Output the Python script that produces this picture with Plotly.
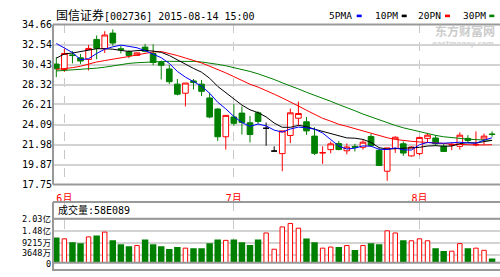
import plotly.graph_objects as go

# ---------------- data ----------------
dates = ["2015-05-29",
         "2015-06-01", "2015-06-02", "2015-06-03", "2015-06-04", "2015-06-05", "2015-06-08", "2015-06-09",
         "2015-06-10", "2015-06-11", "2015-06-12", "2015-06-15", "2015-06-16", "2015-06-17", "2015-06-18",
         "2015-06-19", "2015-06-23", "2015-06-24", "2015-06-25", "2015-06-26", "2015-06-29", "2015-06-30",
         "2015-07-01", "2015-07-02", "2015-07-03", "2015-07-06", "2015-07-07", "2015-07-08", "2015-07-09",
         "2015-07-10", "2015-07-13", "2015-07-14", "2015-07-15", "2015-07-16", "2015-07-17", "2015-07-20",
         "2015-07-21", "2015-07-22", "2015-07-23", "2015-07-24", "2015-07-27", "2015-07-28", "2015-07-29",
         "2015-07-30", "2015-07-31",
         "2015-08-03", "2015-08-04", "2015-08-05", "2015-08-06", "2015-08-07", "2015-08-10", "2015-08-11",
         "2015-08-12", "2015-08-13", "2015-08-14"]

open_ = [30.48, 29.90, 31.45, 31.14, 30.97, 33.08, 32.10, 33.75, 32.10, 31.78,
         31.40, 32.27, 31.60, 30.64, 29.96, 28.36, 27.40, 28.70, 28.36, 26.90,
         25.73, 22.80, 24.89, 25.30, 24.28, 25.33, 23.70, 21.29, 21.02, 22.94,
         24.76, 24.38, 22.87, 21.08, 21.44, 22.08, 21.32, 21.78, 21.69, 22.82,
         21.37, 19.16, 21.55, 22.06, 20.78, 21.02, 22.63, 22.67, 21.79, 21.93,
         21.79, 22.63, 21.95, 22.56, 23.09]
high = [31.20, 32.07, 31.85, 31.55, 32.50, 33.50, 33.95, 34.14, 32.40, 31.95,
        31.70, 32.62, 32.57, 30.85, 30.40, 28.90, 28.50, 28.90, 28.80, 27.45,
        25.83, 25.10, 26.24, 26.00, 25.00, 25.50, 24.30, 21.79, 23.42, 25.77,
        26.51, 24.89, 23.81, 21.80, 22.30, 22.35, 22.10, 22.06, 22.47, 23.10,
        21.60, 21.65, 22.85, 22.30, 21.78, 22.80, 23.21, 22.97, 22.03, 22.19,
        23.27, 22.97, 23.37, 23.14, 23.37]
low = [29.10, 29.65, 30.55, 30.50, 29.80, 30.99, 31.65, 32.43, 31.60, 31.10,
       31.35, 31.73, 30.35, 28.85, 28.38, 27.17, 26.00, 27.80, 27.10, 24.76,
       22.36, 21.45, 23.98, 23.04, 22.20, 24.15, 21.86, 21.29, 19.16, 22.13,
       23.98, 23.00, 20.88, 19.94, 21.05, 21.37, 20.95, 21.25, 21.45, 21.79,
       19.72, 18.15, 21.10, 20.78, 20.70, 20.85, 22.20, 21.86, 21.22, 21.39,
       21.45, 22.20, 21.79, 21.96, 22.80]
close = [29.98, 31.60, 31.38, 30.80, 32.13, 32.15, 33.55, 32.70, 32.00, 31.38,
         31.66, 31.83, 30.65, 30.35, 28.62, 27.30, 28.47, 28.54, 27.60, 24.89,
         22.80, 25.06, 24.22, 24.32, 23.04, 24.42, 23.70, 21.29, 23.42, 25.33,
         25.26, 23.42, 21.05, 21.13, 22.05, 21.45, 21.72, 21.70, 22.23, 21.87,
         19.77, 21.62, 22.75, 21.08, 21.72, 22.73, 22.97, 22.06, 21.25, 21.97,
         22.97, 22.40, 22.00, 22.87, 23.05]

# volume in 亿 (1e8 shares)
volume_yi = [1.16, 1.10, 0.94, 0.90, 1.19, 1.25, 1.41, 1.03, 0.85, 0.76,
             0.79, 1.07, 0.85, 0.76, 0.63, 0.72, 0.67, 0.67, 0.67, 0.90,
             1.07, 1.03, 1.07, 0.94, 0.81, 1.07, 1.37, 0.62, 1.65, 1.81,
             1.59, 1.12, 0.94, 0.67, 0.72, 0.72, 0.79, 0.59, 0.79, 0.90,
             0.85, 1.47, 1.37, 1.03, 1.01, 1.10, 1.01, 0.67, 0.54, 0.53,
             0.88, 0.67, 0.67, 0.57, 0.19]

ma5 = [32.65, 32.20, 31.70, 30.95, 31.05, 31.60, 32.05, 32.30, 32.48, 32.35,
       32.20, 31.90, 31.50, 31.15, 30.55, 29.70, 29.10, 28.65, 28.15, 27.40,
       26.45, 25.75, 24.95, 24.30, 23.90, 24.15, 23.95, 23.50, 23.30, 23.62,
       23.82, 23.75, 23.60, 23.20, 22.55, 21.82, 21.50, 21.60, 21.84, 21.80,
       21.48, 21.45, 21.63, 21.42, 21.40, 21.96, 22.20, 22.12, 22.12, 22.18,
       22.22, 22.15, 22.12, 22.44, 22.70]
ma10 = [31.10, 31.55, 31.65, 31.80, 32.00, 32.10, 32.10, 32.05, 31.92, 31.82,
        31.90, 31.92, 31.85, 31.72, 31.38, 30.92, 30.42, 30.02, 29.62, 28.98,
        28.12, 27.45, 26.80, 26.15, 25.65, 25.35, 24.90, 24.25, 23.80, 23.80,
        24.00, 23.88, 23.60, 23.35, 23.15, 22.90, 22.68, 22.65, 22.52, 22.20,
        21.65, 21.50, 21.55, 21.58, 21.57, 21.68, 21.82, 21.86, 21.80, 21.82,
        22.08, 22.18, 22.15, 22.30, 22.42]
ma20 = [29.92, 29.98, 30.10, 30.25, 30.50, 30.70, 30.85, 30.98, 31.10, 31.28,
        31.45, 31.62, 31.76, 31.80, 31.62, 31.38, 31.12, 30.90, 30.60, 30.25,
        29.92, 29.55, 29.15, 28.75, 28.35, 28.05, 27.70, 27.30, 26.90, 26.50,
        26.05, 25.60, 25.15, 24.75, 24.45, 24.12, 23.90, 23.65, 23.42, 23.18,
        22.92, 22.70, 22.52, 22.40, 22.32, 22.25, 22.22, 22.17, 22.10, 22.02,
        21.97, 21.94, 21.93, 21.94, 21.96]
ma30 = [29.75, 29.80, 29.85, 29.90, 29.95, 30.05, 30.15, 30.30, 30.42, 30.55,
        30.62, 30.68, 30.72, 30.75, 30.77, 30.78, 30.78, 30.76, 30.70, 30.60,
        30.45, 30.30, 30.10, 29.95, 29.70, 29.45, 29.17, 28.85, 28.50, 28.20,
        27.85, 27.50, 27.20, 26.85, 26.55, 26.20, 25.90, 25.55, 25.20, 24.90,
        24.55, 24.25, 24.00, 23.75, 23.55, 23.30, 23.10, 22.95, 22.80, 22.70,
        22.60, 22.55, 22.50, 22.45, 22.42]

ma_names = ["5PMA", "10PM", "20PN", "30PM"]
price_ticks = [17.75, 19.87, 21.98, 24.09, 26.21, 28.32, 30.43, 32.54, 34.66]
vol_ticks = [0, 0.3648, 0.9215, 1.48, 2.03]
vol_tick_text = ["0", "3648万", "9215万", "1.48亿", "2.03亿"]
title_name = "国信证券"
title_rest = "[002736] 2015-08-14 15:00"
vol_title = "成交量:58E089"

# ---------------- styling ----------------
W, H = 500, 277
RED = "#ff0000"
GREEN = "#008000"
BLUE = "#0000ff"
BLACK = "#000000"
FRAME = "#999999"
GRID = "#d3d3d3"
FONT = "DejaVu Sans Mono, Noto Sans CJK SC"

def py(px):
    return 1 - px / H

def pxx(px):
    return px / W

n = len(dates)
xs = list(range(n))

# month starts from dates
month_idx, month_text = [], []
for i in range(1, n):
    if dates[i][5:7] != dates[i - 1][5:7]:
        month_idx.append(i)
        month_text.append(f"{int(dates[i][5:7])}月")

def pick(seq, cond):
    return [seq[i] for i in range(n) if cond(i)]

fig = go.Figure()

groups = [
    (lambda i: close[i] > open_[i], RED, "white"),
    (lambda i: close[i] < open_[i], GREEN, GREEN),
    (lambda i: close[i] == open_[i], BLACK, BLACK),
]
for cond, lc, fc in groups:
    style = dict(line=dict(color=lc, width=1), fillcolor=fc)
    fig.add_trace(go.Candlestick(
        x=pick(xs, cond), open=pick(open_, cond), high=pick(high, cond),
        low=pick(low, cond), close=pick(close, cond),
        increasing=style, decreasing=style, whiskerwidth=0,
        xaxis="x", yaxis="y", hoverinfo="skip"))

for vals, col in zip([ma30, ma20, ma10, ma5], [GREEN, RED, BLACK, BLUE]):
    fig.add_trace(go.Scatter(x=xs, y=vals, mode="lines",
                             line=dict(color=col, width=1),
                             xaxis="x", yaxis="y", hoverinfo="skip"))

up_v = lambda i: close[i] >= open_[i]
dn_v = lambda i: close[i] < open_[i]
fig.add_trace(go.Bar(x=pick(xs, dn_v), y=pick(volume_yi, dn_v), width=0.8,
                     marker=dict(color=GREEN, line=dict(width=0)),
                     xaxis="x2", yaxis="y2", hoverinfo="skip"))
fig.add_trace(go.Bar(x=pick(xs, up_v), y=pick(volume_yi, up_v), width=0.55,
                     marker=dict(color="white", line=dict(color=RED, width=1)),
                     xaxis="x2", yaxis="y2", hoverinfo="skip"))

# ---------------- layout ----------------
x_left = 53
price_top, price_bot = 19.33, 186.67
vol_top, vol_sep, vol_bot, last_line = 205.0, 222.3, 268.3, 276.0
vol_max = 2.03 * (vol_bot - vol_top) / (vol_bot - vol_sep)
xr = [-0.41, 54.98]

common_x = dict(range=xr, domain=[pxx(x_left), 1.0], showgrid=True, gridcolor="#c8c8c8",
                griddash="dash", gridwidth=1, zeroline=False, showline=False,
                tickvals=month_idx, ticks="", fixedrange=True)

fig.update_layout(
    width=W, height=H, margin=dict(l=0, r=0, t=0, b=0),
    paper_bgcolor="white", plot_bgcolor="white", showlegend=False,
    boxgap=0.3, boxgroupgap=0, barmode="overlay",
    font=dict(family=FONT, size=10, color=BLACK),
    xaxis=dict(**common_x, anchor="y", ticktext=month_text, ticklabelstandoff=6,
               tickfont=dict(color=RED, size=10, family=FONT)),
    xaxis2=dict(**common_x, anchor="y2", showticklabels=False),
    yaxis=dict(domain=[py(price_bot), py(price_top)], range=[17.75, 34.66],
               tickvals=price_ticks, ticktext=[f"{v:.2f}" for v in price_ticks],
               showgrid=True, gridcolor=GRID, gridwidth=1.5, zeroline=False,
               showline=False, ticks="", anchor="x", fixedrange=True,
               tickfont=dict(size=10, family=FONT, color=BLACK)),
    yaxis2=dict(domain=[py(vol_bot), py(vol_top)], range=[0, vol_max],
                tickvals=vol_ticks, showticklabels=False,
                showgrid=True, gridcolor=GRID, gridwidth=1.5, zeroline=False,
                showline=False, ticks="", anchor="x2", fixedrange=True),
    xaxis_rangeslider_visible=False,
)

shapes = []
def hline(ypx):
    shapes.append(dict(type="line", xref="paper", yref="paper",
                       x0=pxx(x_left), x1=1.0, y0=py(ypx), y1=py(ypx),
                       line=dict(color=FRAME, width=2)))
def vline(y0px, y1px):
    shapes.append(dict(type="line", xref="paper", yref="paper",
                       x0=pxx(x_left), x1=pxx(x_left), y0=py(y0px), y1=py(y1px),
                       line=dict(color=FRAME, width=2)))
for ypx in [price_top, price_bot, vol_top, vol_sep, vol_bot, last_line]:
    hline(ypx)
vline(price_top, price_bot)
vline(vol_top, H)

annotations = [
    dict(text=f'<span style="font-size:12px">{title_name}</span>{title_rest}',
         x=pxx(54), y=py(9.5), xref="paper", yref="paper", xanchor="left",
         yanchor="middle", showarrow=False, font=dict(family=FONT, size=10, color=BLACK)),
    dict(text=vol_title, x=pxx(56), y=py(213.5), xref="paper", yref="paper",
         xanchor="left", yanchor="middle", showarrow=False,
         font=dict(family=FONT, size=10, color=BLACK)),
    dict(text="<b>东方财富网</b>", x=pxx(465), y=py(25.5), xref="paper", yref="paper",
         xanchor="center", yanchor="middle", showarrow=False,
         font=dict(family="Noto Sans CJK SC", size=12, color="#cccccc")),
    dict(text="<b><i>eastmoney.com</i></b>", x=pxx(463), y=py(40), xref="paper", yref="paper",
         xanchor="center", yanchor="middle", showarrow=False,
         font=dict(family="DejaVu Sans", size=7, color="#d2d2d2")),
]

# volume axis labels, placed on the volume axis scale (small nudges keep the
# two lowest labels from colliding, as in the reference)
vol_label_shift = [-1.5, 2, 0, 0, 0]
for v, t, s in zip(vol_ticks, vol_tick_text, vol_label_shift):
    annotations.append(dict(text=t, x=pxx(51.5), y=v, xref="paper", yref="y2",
                            xanchor="right", yanchor="middle", yshift=s, showarrow=False,
                            borderpad=0, font=dict(family=FONT, size=8.5, color=BLACK)))

legend_text_x = [327, 372.7, 416, 460.7]
legend_chip_x = [356.7, 401.7, 445, 489.3]
legend_cols = [BLUE, BLACK, RED, GREEN]
for name, tx, cx, col in zip(ma_names, legend_text_x, legend_chip_x, legend_cols):
    annotations.append(dict(text=name, x=pxx(tx), y=py(9.7), xref="paper", yref="paper",
                            xanchor="left", yanchor="middle", showarrow=False,
                            font=dict(family=FONT, size=9.5, color=BLACK)))
    shapes.append(dict(type="rect", xref="paper", yref="paper",
                       x0=pxx(cx), x1=pxx(cx + 5), y0=py(11.7), y1=py(9),
                       line=dict(width=0), fillcolor=col))

fig.update_layout(shapes=shapes, annotations=annotations)

fig.write_html("out.html")
